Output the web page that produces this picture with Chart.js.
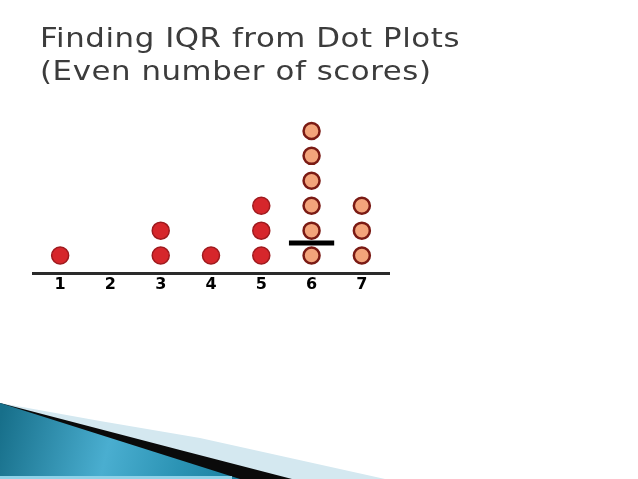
<!DOCTYPE html>
<html>
<head>
<meta charset="utf-8">
<script src="https://cdn.jsdelivr.net/npm/chart.js@4.4.1/dist/chart.umd.min.js"></script>
<style>
  html, body { margin: 0; padding: 0; background: #ffffff; }
  #wrap { position: relative; width: 638px; height: 479px; }
  canvas { display: block; }
</style>
</head>
<body>
<div id="wrap"><canvas id="c" width="638" height="479"></canvas></div>
<script>
// ---- data ----
const titleLines = ["Finding IQR from Dot Plots", "(Even number of scores)"];
const tickValues = [1, 2, 3, 4, 5, 6, 7];
const tickLabels = ["1", "2", "3", "4", "5", "6", "7"];
// lower-half scores (red dots): value and stack level
const lowerX = [1, 3, 3, 4, 5, 5, 5];
const lowerY = [1, 1, 2, 1, 1, 2, 3];
// upper-half scores (orange dots)
const upperX = [6, 6, 6, 6, 6, 6, 7, 7, 7];
const upperY = [1, 2, 3, 4, 5, 6, 1, 2, 3];
// median marker line
const medianX = [5.55, 6.45];
const medianY = [1.5, 1.5];

const toPts = (xs, ys) => xs.map((x, i) => ({ x: x, y: ys[i] }));

// decorative background + title
const decoPlugin = {
  id: 'deco',
  beforeDraw(chart) {
    const ctx = chart.ctx;
    ctx.save();
    ctx.fillStyle = '#ffffff';
    ctx.fillRect(0, 0, chart.width, chart.height);
    // light blue band
    ctx.fillStyle = '#d4e8f0';
    ctx.beginPath();
    ctx.moveTo(0, 403);
    ctx.lineTo(100, 421);
    ctx.lineTo(200, 438);
    ctx.lineTo(385, 479);
    ctx.lineTo(0, 479);
    ctx.closePath();
    ctx.fill();
    // black wedge
    ctx.fillStyle = '#0a0a0a';
    ctx.beginPath();
    ctx.moveTo(0, 403);
    ctx.lineTo(180, 450);
    ctx.lineTo(292, 479);
    ctx.lineTo(0, 479);
    ctx.closePath();
    ctx.fill();
    // teal gradient
    const g = ctx.createLinearGradient(0, 420, 240, 479);
    g.addColorStop(0, '#176f8a');
    g.addColorStop(0.45, '#4aaed0');
    g.addColorStop(0.75, '#2b93b4');
    g.addColorStop(1, '#1a7f9f');
    ctx.fillStyle = g;
    ctx.beginPath();
    ctx.moveTo(0, 403);
    ctx.lineTo(240, 479);
    ctx.lineTo(0, 479);
    ctx.closePath();
    ctx.fill();
    // bottom light strip
    ctx.fillStyle = '#8fd2e8';
    ctx.fillRect(0, 476, 232, 3);
    ctx.restore();

    // title
    ctx.save();
    ctx.fillStyle = '#3c3c3c';
    ctx.font = '27px "DejaVu Sans"';
    ctx.textBaseline = 'alphabetic';
    ctx.textAlign = 'left';
    try { ctx.letterSpacing = '0.5px'; } catch (e) {}
    const w = ctx.measureText(titleLines[0]).width;
    const sx = w > 0 ? 420 / w : 1;
    ctx.translate(40, 0);
    ctx.scale(sx, 1);
    ctx.fillText(titleLines[0], 0, 47);
    ctx.fillText(titleLines[1], 0, 80);
    ctx.restore();
  }
};

new Chart(document.getElementById('c'), {
  type: 'scatter',
  data: {
    datasets: [
      {
        label: 'median',
        type: 'line',
        data: toPts(medianX, medianY),
        borderColor: '#000000',
        borderWidth: 5,
        pointRadius: 0,
        borderCapStyle: 'butt',
        order: 3
      },
      {
        label: 'lower',
        data: toPts(lowerX, lowerY),
        pointRadius: 8.5,
        pointHoverRadius: 8.5,
        backgroundColor: '#d6262b',
        borderColor: '#9e1a1e',
        borderWidth: 1.5,
        order: 1
      },
      {
        label: 'upper',
        data: toPts(upperX, upperY),
        pointRadius: 8,
        pointHoverRadius: 8,
        backgroundColor: '#f3a47b',
        borderColor: '#7a1a14',
        borderWidth: 2.5,
        order: 2
      }
    ]
  },
  options: {
    responsive: false,
    animation: false,
    events: [],
    layout: { padding: { left: 33, right: 249, top: 111, bottom: 176 } },
    plugins: {
      legend: { display: false },
      title: { display: false },
      tooltip: { enabled: false }
    },
    scales: {
      x: {
        type: 'linear',
        min: 0.46,
        max: 7.54,
        afterBuildTicks: s => { s.ticks = tickValues.map(v => ({ value: v })); },
        afterFit: s => { s.height = 30; },
        grid: { display: false, drawTicks: false },
        border: { display: true, color: '#2a2a2a', width: 3 },
        ticks: {
          padding: 2,
          color: '#000000',
          font: { family: '"DejaVu Sans", sans-serif', size: 16, weight: 'bold' },
          callback: (v) => { const i = tickValues.indexOf(v); return i >= 0 ? tickLabels[i] : ''; },
          maxRotation: 0,
          autoSkip: false
        }
      },
      y: {
        type: 'linear',
        display: false,
        min: 0.3,
        max: 6.8
      }
    }
  },
  plugins: [decoPlugin]
});
</script>
</body>
</html>
